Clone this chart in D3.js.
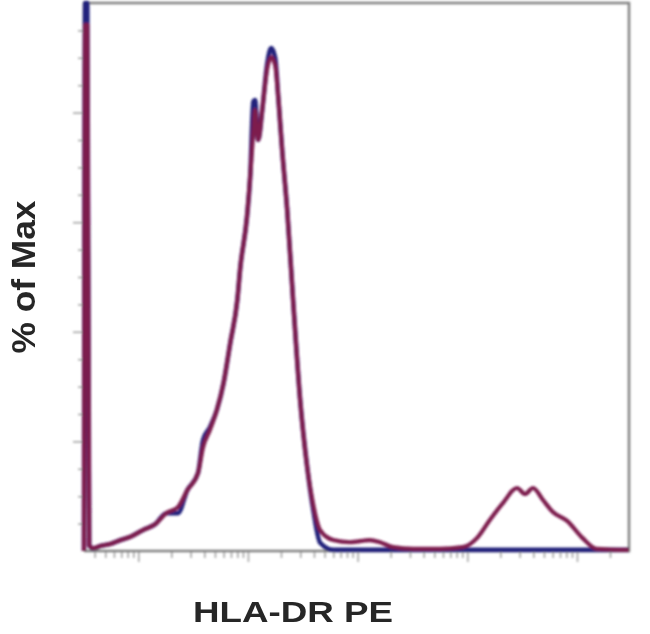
<!DOCTYPE html>
<html>
<head>
<meta charset="utf-8">
<script src="https://cdn.jsdelivr.net/npm/d3@7.9.0/dist/d3.min.js"></script>
<style>
  html, body { margin: 0; padding: 0; background: #fff; }
  svg { display: block; }
</style>
</head>
<body>
<svg id="chart" width="650" height="634"></svg>
<script>
// HLA-DR PE intensity bins
const intensity = [3.2, 3.28, 3.43, 3.57, 3.9, 4.5, 5.6, 6.9, 8.5, 11, 14.3, 18, 23, 28, 35, 39, 45, 52, 60, 69, 80, 85, 98, 105, 112, 116, 124, 135, 150, 163, 177, 189, 205, 228, 258, 299, 347, 394, 455, 598, 851, 1300, 1600, 2100, 3200, 5650, 9100, 12300, 16100, 21200, 28400, 33600, 39700, 49000, 60300, 81300, 112000, 151000, 298000];

// % of Max, blue (control) and red (stained) histograms
const bluePct = [0, 100, 100, 1, 0.5, 0.9, 1.3, 2.0, 2.6, 3.8, 4.9, 6.9, 6.9, 11.1, 14.2, 20.3, 22.6, 25.7, 30.7, 38.0, 45.8, 51.6, 61.0, 68.6, 82.0, 82.3, 75.0, 80.5, 89.0, 91.8, 90.0, 82.8, 73.2, 62.2, 45.8, 27.6, 15.3, 7.5, 1.5, 0.2, 0.2, 0.2, 0.2, 0.2, 0.2, 0.2, 0.2, 0.2, 0.2, 0.2, 0.2, 0.2, 0.2, 0.2, 0.2, 0.2, 0.2, 0.2, 0.2];
const redPct = [0, 96, 96, 1, 0.5, 0.9, 1.3, 2.0, 2.6, 3.8, 4.9, 6.9, 8.0, 11.1, 14.2, 19.0, 22.1, 25.7, 30.7, 38.0, 45.8, 51.6, 61.0, 68.6, 76.8, 80.5, 75.0, 80.5, 88.1, 90.1, 88.7, 82.8, 73.2, 62.2, 45.8, 27.6, 15.3, 8.4, 3.8, 2.0, 1.6, 2.0, 1.6, 0.7, 0.4, 0.4, 0.7, 2.4, 5.7, 8.8, 11.5, 10.4, 11.5, 9.3, 7.1, 5.5, 2.4, 0.4, 0.2];

const xMajor = [10, 100, 1000, 10000, 100000];
const yMajor = [20, 40, 60, 80];

const mLeft = 84, mRight = 629, mTop = 3, mBottom = 551;

const svg = d3.select('#chart');

const defs = svg.append('defs');
defs.append('filter').attr('id', 'soft')
  .append('feGaussianBlur').attr('stdDeviation', 0.9);
defs.append('filter').attr('id', 'softText')
  .append('feGaussianBlur').attr('stdDeviation', 0.6);

const x = d3.scaleLog().domain([3.2, 298000]).range([mLeft, mRight]);
const y = d3.scaleLinear().domain([0, 100]).range([mBottom, mTop]);

const g = svg.append('g').attr('filter', 'url(#soft)');

// minor + major ticks, bottom
const xMinor = x.ticks().filter(v => !xMajor.includes(v));
g.append('g')
  .attr('transform', `translate(0,${mBottom})`)
  .call(d3.axisBottom(x).tickValues(xMinor).tickSize(7).tickFormat(''))
  .call(a => a.select('.domain').remove());
g.append('g')
  .attr('transform', `translate(0,${mBottom})`)
  .call(d3.axisBottom(x).tickValues(xMajor).tickSize(11).tickFormat(''))
  .call(a => a.select('.domain').remove());

// left ticks
const yMinor = d3.range(5, 100, 5).filter(v => !yMajor.includes(v));
g.append('g')
  .attr('transform', `translate(${mLeft},0)`)
  .call(d3.axisLeft(y).tickValues(yMinor).tickSize(6).tickFormat(''))
  .call(a => a.select('.domain').remove());
g.append('g')
  .attr('transform', `translate(${mLeft},0)`)
  .call(d3.axisLeft(y).tickValues(yMajor).tickSize(11).tickFormat(''))
  .call(a => a.select('.domain').remove());

g.selectAll('.tick line').attr('stroke', '#a0a0a0').attr('stroke-width', 1.5);

// frame
g.append('path')
  .attr('d', `M${mLeft},${mBottom}H${mRight}V${mTop}H${mLeft}V${mBottom}`)
  .attr('fill', 'none')
  .attr('stroke', '#808080')
  .attr('stroke-width', 2.5);

const line = (vals) => d3.line()
  .x((d, i) => x(intensity[i]))
  .y(d => y(d))
  .curve(d3.curveMonotoneX)(vals);

g.append('path')
  .attr('d', line(bluePct))
  .attr('fill', 'none')
  .attr('stroke', '#24227c')
  .attr('stroke-width', 4.6)
  .attr('stroke-linejoin', 'round');

g.append('path')
  .attr('d', line(redPct))
  .attr('fill', 'none')
  .attr('stroke', '#7d1b4e')
  .attr('stroke-width', 4.2)
  .attr('stroke-linejoin', 'round');

// labels
const labels = svg.append('g').attr('filter', 'url(#softText)')
  .attr('font-family', 'Liberation Sans, Arial, sans-serif')
  .attr('font-weight', 'bold')
  .attr('fill', '#262626');

labels.append('text')
  .attr('x', 293)
  .attr('y', 622)
  .attr('text-anchor', 'middle')
  .attr('font-size', 30)
  .attr('textLength', 200)
  .attr('lengthAdjust', 'spacingAndGlyphs')
  .text('HLA-DR PE');

labels.append('text')
  .attr('transform', 'translate(35,277) rotate(-90)')
  .attr('text-anchor', 'middle')
  .attr('font-size', 34)
  .attr('textLength', 153)
  .attr('lengthAdjust', 'spacingAndGlyphs')
  .text('% of Max');
</script>
</body>
</html>
